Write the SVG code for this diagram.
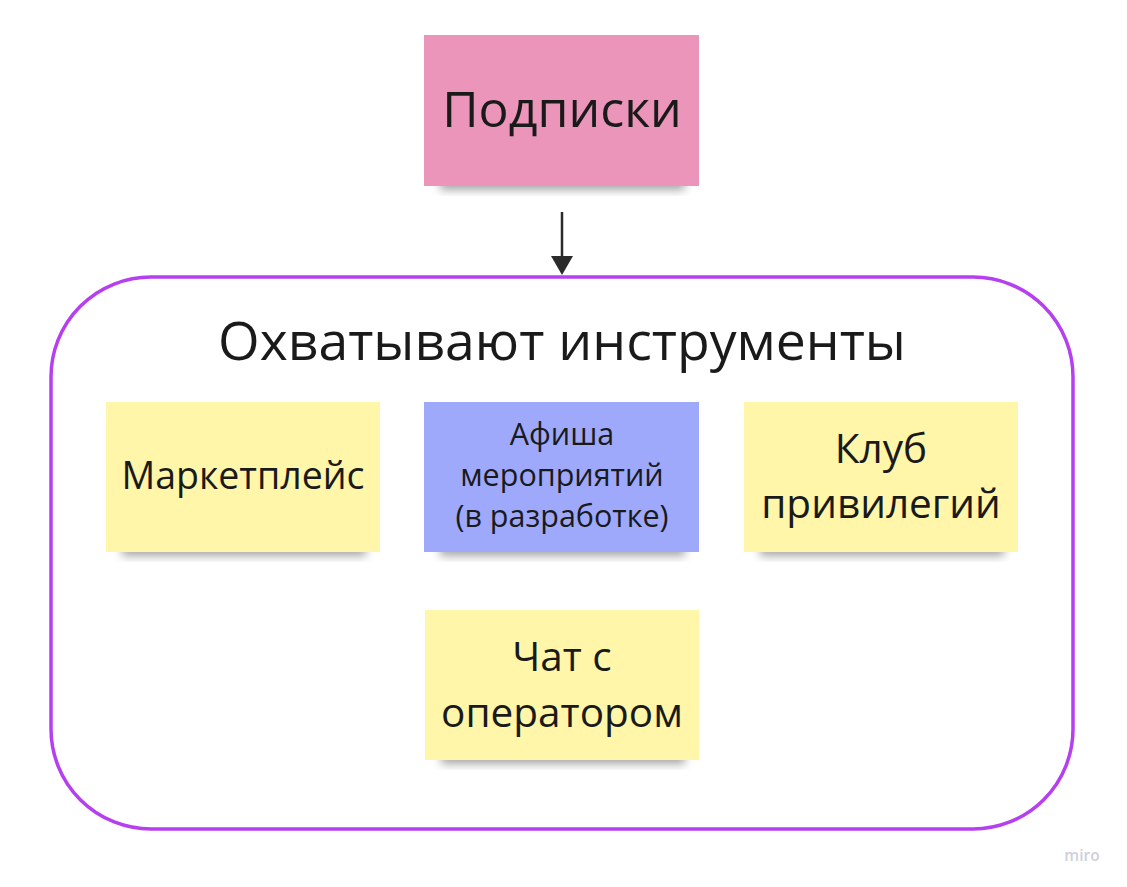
<svg xmlns="http://www.w3.org/2000/svg" width="1127" height="887" viewBox="0 0 1127 887">
<defs>
<filter id="sh" x="-20%" y="-20%" width="140%" height="160%">
<feGaussianBlur stdDeviation="5"/>
</filter>
</defs>
<style>
text{font-family:"Open Sans","Noto Sans",sans-serif;fill:#1a1a1a;text-anchor:middle}
.shadow{fill:#000;opacity:0.35;filter:url(#sh)}
.yellow{fill:#fff6a9}
.pink{fill:#ea95b9}
.blue{fill:#9ea9fc}
</style>
<rect width="1127" height="887" fill="#fff"/>
<g id="container">
<rect x="51" y="277" width="1022" height="552" rx="100" ry="100" fill="none" stroke="#b63ff0" stroke-width="3.5"/>
<text x="562" y="360" font-size="53.5">Охватывают инструменты</text>
</g>
<g id="connectors">
<line x1="562" y1="212" x2="562" y2="260" stroke="#2b2b2b" stroke-width="2.5"/>
<polygon points="551,256 573,256 562,275" fill="#2b2b2b"/>
</g>
<g id="podpiski">
<rect class="shadow" x="440" y="176" width="245" height="14"/>
<rect class="pink" x="424" y="35" width="275" height="151"/>
<text x="562" y="127" font-size="50">Подписки</text>
</g>
<g id="marketplace">
<rect class="shadow" x="122" y="542" width="244" height="14"/>
<rect class="yellow" x="106" y="402" width="274" height="150"/>
<text x="243" y="489" font-size="37.5">Маркетплейс</text>
</g>
<g id="afisha">
<rect class="shadow" x="440" y="542" width="245" height="14"/>
<rect class="blue" x="424" y="402" width="275" height="150"/>
<text x="562" y="445" font-size="30.5">Афиша</text>
<text x="562" y="486" font-size="30.5">мероприятий</text>
<text x="562" y="527" font-size="30.5">(в разработке)</text>
</g>
<g id="club">
<rect class="shadow" x="760" y="542" width="244" height="14"/>
<rect class="yellow" x="744" y="402" width="274" height="150"/>
<text x="881" y="463" font-size="40.5">Клуб</text>
<text x="881" y="518" font-size="40.5">привилегий</text>
</g>
<g id="chat">
<rect class="shadow" x="441" y="750" width="244" height="14"/>
<rect class="yellow" x="425" y="610" width="274" height="150"/>
<text x="562" y="671" font-size="40.5">Чат с</text>
<text x="562" y="727" font-size="40.5">оператором</text>
</g>
<text x="1082" y="861" font-size="15.5" font-weight="600" style="fill:#cfd0dc">miro</text>
</svg>
